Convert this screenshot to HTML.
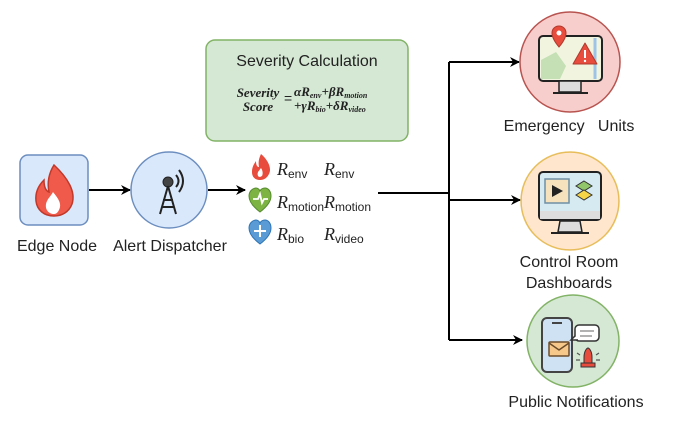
<!DOCTYPE html>
<html><head><meta charset="utf-8"><style>
body{margin:0;background:#fff}
svg{display:block}
text{font-family:"Liberation Sans",sans-serif;fill:#222}
.m{font-family:"Liberation Serif",serif;font-style:italic}
</style></head><body>
<svg width="685" height="428" viewBox="0 0 685 428" xmlns="http://www.w3.org/2000/svg">
<defs><marker id="a" markerWidth="10" markerHeight="10" refX="9" refY="5" orient="auto" markerUnits="userSpaceOnUse"><path d="M0,0 L10,5 L0,10 L3,5 Z" fill="#000"/></marker></defs>
<!-- edge node -->
<rect x="20" y="155" width="68" height="70" rx="8" fill="#dae8fc" stroke="#6c8ebf" stroke-width="1.5"/>
<path d="M54,165 C68,178 76,192 72,204 C69,212 62,216 54,216 C44,216 37,210 36,201 C35,192 39,185 44,180 C44,187 46,191 49,192 C47,182 49,173 54,165 Z" fill="#f05a4a" stroke="#c0392b" stroke-width="1.5"/>
<path d="M54,214 C49,214 45,210 46,204 C47,199 51,196 53,192 C57,197 61,202 60,207 C59,211 57,214 54,214Z" fill="#fff"/>
<text x="57" y="251" font-size="16" text-anchor="middle">Edge Node</text>
<line x1="89" y1="190" x2="130" y2="190" stroke="#000" stroke-width="2" marker-end="url(#a)"/>
<!-- dispatcher -->
<circle cx="169" cy="190" r="38" fill="#dae8fc" stroke="#6c8ebf" stroke-width="1.5"/>
<circle cx="168" cy="182" r="5" fill="#444" stroke="#222"/>
<path d="M168,186 L160,214 M168,186 L176,214 M163,200 L173,200 M162,207 L174,207" stroke="#222" stroke-width="2" fill="none"/>
<path d="M176,175 Q181,181 176,187 M179,170 Q187,181 179,192" stroke="#222" stroke-width="2" fill="none"/>
<text x="170" y="251" font-size="16" text-anchor="middle">Alert Dispatcher</text>
<line x1="208" y1="190" x2="245" y2="190" stroke="#000" stroke-width="2" marker-end="url(#a)"/>
<!-- severity box -->
<rect x="206" y="40" width="202" height="101" rx="9" fill="#d5e8d4" stroke="#82b366" stroke-width="1.5"/>
<text x="307" y="66" font-size="16" text-anchor="middle">Severity Calculation</text>
<text class="m" x="258" y="97" font-size="13" font-weight="bold" text-anchor="middle">Severity</text>
<text class="m" x="258" y="111" font-size="13" font-weight="bold" text-anchor="middle">Score</text>
<text x="284" y="103" font-size="14" font-family="Liberation Serif">=</text>
<text class="m" x="294" y="96" font-size="13" font-weight="bold">αR<tspan font-size="8" dy="2">env</tspan><tspan dy="-2">+βR</tspan><tspan font-size="8" dy="2">motion</tspan></text>
<text class="m" x="294" y="110" font-size="13" font-weight="bold">+γR<tspan font-size="8" dy="2">bio</tspan><tspan dy="-2">+δR</tspan><tspan font-size="8" dy="2">video</tspan></text>
<!-- icons list -->
<path d="M261,154 C268,160 272,168 269,174 C267,178 264,180 260,180 C255,180 252,177 252,172 C252,167 254,164 256,161 C256,165 257,167 259,167 C258,162 259,158 261,154Z" fill="#e74c3c"/>
<path d="M260,177 C258,177 257,175 258,172 L261,168 C263,171 263,174 262,176Z" fill="#fff"/>
<path d="M260,212 C252,206 249,201 249,196 C249,191 253,188 256,188 C258,188 259,189 260,191 C261,189 263,188 265,188 C268,188 271,191 271,196 C271,201 268,206 260,212Z" fill="#7cb342" stroke="#558b2f"/>
<path d="M253,199 L258,199 L260,194 L262,203 L264,199 L268,199" stroke="#fff" stroke-width="1.8" fill="none"/>
<path d="M260,244 C252,238 249,233 249,228 C249,223 253,220 256,220 C258,220 259,221 260,223 C261,221 263,220 265,220 C268,220 271,223 271,228 C271,233 268,238 260,244Z" fill="#5b9bd5" stroke="#2e75b6"/>
<path d="M254,231 L266,231 M260,225 L260,237" stroke="#fff" stroke-width="2"/>
<g font-size="18">
<text class="m" x="277" y="175">R<tspan font-style="normal" font-family="Liberation Sans" font-size="12" dy="3">env</tspan></text>
<text class="m" x="324" y="175">R<tspan font-style="normal" font-family="Liberation Sans" font-size="12" dy="3">env</tspan></text>
<text class="m" x="277" y="208">R<tspan font-style="normal" font-family="Liberation Sans" font-size="12" dy="3">motion</tspan></text>
<text class="m" x="324" y="208">R<tspan font-style="normal" font-family="Liberation Sans" font-size="12" dy="3">motion</tspan></text>
<text class="m" x="277" y="240">R<tspan font-style="normal" font-family="Liberation Sans" font-size="12" dy="3">bio</tspan></text>
<text class="m" x="324" y="240">R<tspan font-style="normal" font-family="Liberation Sans" font-size="12" dy="3">video</tspan></text>
</g>
<!-- connectors -->
<path d="M378,193 L449,193 M449,62 L449,340" stroke="#000" stroke-width="2" fill="none"/>
<line x1="449" y1="62" x2="519" y2="62" stroke="#000" stroke-width="2" marker-end="url(#a)"/>
<line x1="449" y1="200" x2="520" y2="200" stroke="#000" stroke-width="2" marker-end="url(#a)"/>
<line x1="449" y1="340" x2="522" y2="340" stroke="#000" stroke-width="2" marker-end="url(#a)"/>
<!-- emergency -->
<circle cx="570" cy="62" r="50" fill="#f8cecc" stroke="#b85450" stroke-width="1.5"/>
<rect x="539" y="36" width="63" height="45" rx="4" fill="#f1f5e0" stroke="#222" stroke-width="2"/>
<path d="M541,60 L556,52 L566,66 L560,79 L541,79Z" fill="#c5e0b4"/>
<path d="M595,38 L595,79" stroke="#9dc3e6" stroke-width="3"/>
<rect x="559" y="81" width="22" height="11" fill="#ddd" stroke="#222" stroke-width="1.5"/>
<line x1="553" y1="93" x2="588" y2="93" stroke="#222" stroke-width="2"/>
<path d="M559,47 C553,40 552,36 552,33 C552,29 555,26 559,26 C563,26 566,29 566,33 C566,36 565,40 559,47Z" fill="#e74c3c" stroke="#b03a2e"/>
<circle cx="559" cy="33" r="2.5" fill="#fff"/>
<path d="M585,43 L597,64 L573,64Z" fill="#e74c3c" stroke="#b03a2e" stroke-linejoin="round"/>
<path d="M585,50 L585,58" stroke="#fff" stroke-width="2"/><circle cx="585" cy="61" r="1.2" fill="#fff"/>
<text x="569" y="131" font-size="16" text-anchor="middle">Emergency&#160;&#160;&#160;Units</text>
<!-- control room -->
<circle cx="570" cy="201" r="49" fill="#ffe6cc" stroke="#d79b00" stroke-opacity="0.6" stroke-width="1.5"/>
<rect x="539" y="172" width="62" height="48" rx="4" fill="#d6eaf2" stroke="#222" stroke-width="2"/>
<rect x="540" y="211" width="60" height="8" fill="#ddd"/>
<rect x="545" y="179" width="24" height="24" fill="#f6e3bd" stroke="#6f8fa5" stroke-width="1.5"/>
<path d="M552,185 L563,191 L552,197Z" fill="#222"/>
<path d="M584,181 L592,186 L584,191 L576,186Z" fill="#92c66a" stroke="#333"/>
<path d="M584,190 L592,195 L584,200 L576,195Z" fill="#f5d547" stroke="#333"/>
<path d="M560,221 L580,221 L582,232 L558,232Z" fill="#ddd" stroke="#222" stroke-width="1.5"/>
<line x1="551" y1="233" x2="589" y2="233" stroke="#222" stroke-width="2"/>
<text x="569" y="267" font-size="16" text-anchor="middle">Control Room</text>
<text x="569" y="288" font-size="16" text-anchor="middle">Dashboards</text>
<!-- public -->
<circle cx="573" cy="341" r="46" fill="#d5e8d4" stroke="#82b366" stroke-width="1.5"/>
<rect x="542" y="318" width="30" height="54" rx="5" fill="#cfe2f3" stroke="#444" stroke-width="2"/>
<line x1="552" y1="323" x2="562" y2="323" stroke="#444" stroke-width="2"/>
<rect x="549" y="342" width="20" height="14" rx="1" fill="#f6c98a" stroke="#6b4c2a" stroke-width="1.5"/>
<path d="M549,343 L559,350 L569,343" stroke="#6b4c2a" stroke-width="1.5" fill="none"/>
<rect x="575" y="325" width="24" height="16" rx="4" fill="#fff" stroke="#333" stroke-width="1.5"/>
<path d="M575,336 L571,340 L578,340" fill="#fff" stroke="#333" stroke-width="1.5"/>
<path d="M580,331 L594,331 M580,336 L592,336" stroke="#999" stroke-width="1.5"/>
<path d="M584,363 L584,357 C584,351 587,348 588,348 C589,348 592,351 592,357 L592,363Z" fill="#e74c3c" stroke="#333"/>
<rect x="581" y="363" width="14" height="4" fill="#e74c3c" stroke="#333"/>
<path d="M577,353 L580,355 M599,353 L596,355 M576,360 L580,360 M600,360 L596,360" stroke="#555" stroke-width="1.2"/>
<text x="576" y="407" font-size="16" text-anchor="middle">Public Notifications</text>
</svg>
</body></html>
